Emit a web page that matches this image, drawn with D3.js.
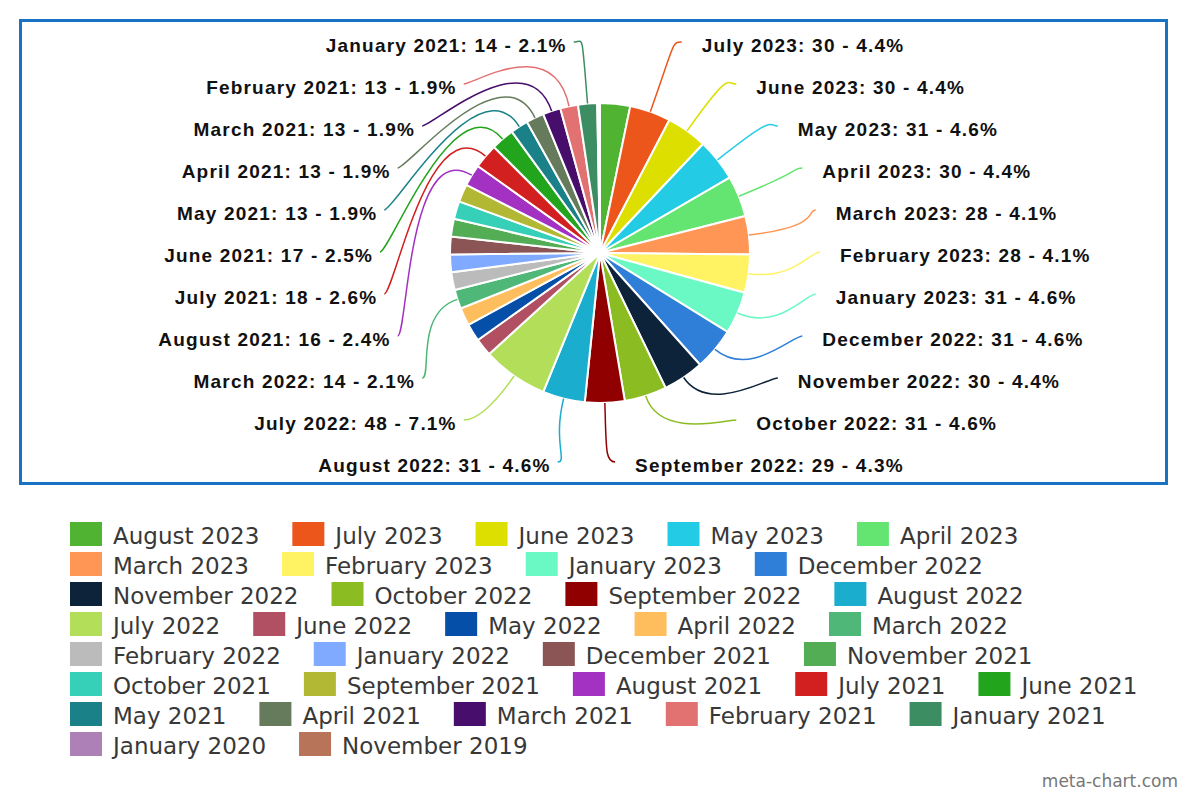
<!DOCTYPE html>
<html>
<head>
<meta charset="utf-8">
<script src="https://cdn.jsdelivr.net/npm/d3@7"></script>
<style>
  body { margin: 0; background: #fff; }
  svg { display: block; }
</style>
</head>
<body>
<svg id="chart" width="1200" height="800"></svg>
<script>
// slices, clockwise from 12 o'clock
const categories = [
  "August 2023", "July 2023", "June 2023", "May 2023", "April 2023", "March 2023",
  "February 2023", "January 2023", "December 2022", "November 2022", "October 2022",
  "September 2022", "August 2022", "July 2022", "June 2022", "May 2022", "April 2022",
  "March 2022", "February 2022", "January 2022", "December 2021", "November 2021",
  "October 2021", "September 2021", "August 2021", "July 2021", "June 2021", "May 2021",
  "April 2021", "March 2021", "February 2021", "January 2021", "January 2020", "November 2019"
];
const values = [
  22, 30, 30, 31, 30, 28,
  28, 31, 31, 30, 31,
  29, 31, 48, 13, 13, 13,
  14, 13, 13, 13, 13,
  13, 13, 16, 18, 17, 13,
  13, 13, 13, 14, 1, 1
];
const colors = [
  "#50b432", "#ed561b", "#dddf00", "#24cbe5", "#64e572", "#ff9655",
  "#fff263", "#6af9c4", "#2f7ed8", "#0d233a", "#8bbc21",
  "#910000", "#1aadce", "#b2de5a", "#b05062", "#054fa8", "#ffbe5e",
  "#4fb878", "#bbbbbb", "#7faaff", "#8b5555", "#52ad55",
  "#36cfb7", "#b3b834", "#a331c2", "#d21f1f", "#23a41d", "#1a8189",
  "#667b5b", "#470e6c", "#e27272", "#3c8d62", "#ae80b8", "#b87458"
];
// slices that get an outer label
const labelled = [
  "July 2023", "June 2023", "May 2023", "April 2023", "March 2023", "February 2023",
  "January 2023", "December 2022", "November 2022", "October 2022", "September 2022",
  "August 2022", "July 2022", "March 2022", "August 2021", "July 2021", "June 2021",
  "May 2021", "April 2021", "March 2021", "February 2021", "January 2021"
];

const width = 1200;
const height = 800;
const cx = 600, cy = 253, radius = 150;

const svg = d3.select("#chart");
const total = d3.sum(values);
const data = categories.map((name, i) => ({ name, value: values[i], color: colors[i] }));

// frame
svg.append("rect")
  .attr("x", 20.5).attr("y", 20.5)
  .attr("width", 1146).attr("height", 463)
  .attr("fill", "none")
  .attr("stroke", "#1a72c4")
  .attr("stroke-width", 3);

const pie = d3.pie().sort(null).value(d => d.value);
const arcs = pie(data);
const arc = d3.arc().innerRadius(0).outerRadius(radius);

const pieG = svg.append("g").attr("transform", `translate(${cx},${cy})`);
pieG.selectAll("path")
  .data(arcs)
  .join("path")
  .attr("d", arc)
  .attr("fill", d => d.data.color)
  .attr("stroke", "#fff")
  .attr("stroke-width", 2);

// --- outer labels: evenly spread rows on each side ---
const shown = arcs
  .filter(d => labelled.includes(d.data.name))
  .map(d => ({ ...d, mid: (d.startAngle + d.endAngle) / 2 }));
const rightSide = shown.filter(d => d.mid < Math.PI).sort((a, b) => a.mid - b.mid);
const leftSide = shown.filter(d => d.mid >= Math.PI).sort((a, b) => b.mid - a.mid);

const rowGap = 42;
const rowTop = cy - 211;
const lineLength = 220;          // pie radius + label distance
const ringB = 214, ringCy = cy - 1;

function placeSide(list, side) {
  list.forEach((d, i) => {
    const ey = rowTop + i * rowGap;
    // natural spot of the label, straight out from the slice
    const natural = Math.abs(lineLength * Math.sin(d.mid)) + 8;
    const t = (ey - ringCy) / ringB;
    const pushed = lineLength * Math.sqrt(Math.max(0, 1 - t * t));
    let off;
    if (i === 0) off = natural;
    else if (i === list.length - 1) off = Math.min(natural, pushed);
    else off = pushed;
    d.side = side;
    d.ex = cx + side * off;
    d.ey = ey;
    d.ox = cx + radius * Math.sin(d.mid);
    d.oy = cy - radius * Math.cos(d.mid);
  });
}
placeSide(rightSide, 1);
placeSide(leftSide, -1);

const labels = rightSide.concat(leftSide);

function connector(d) {
  const k1 = d.oy < cy ? 75 : 45;
  const k2 = 10;
  const rx = Math.sin(d.mid), ry = -Math.cos(d.mid);
  const p = d3.path();
  p.moveTo(d.ox, d.oy);
  p.bezierCurveTo(d.ox + rx * k1, d.oy + ry * k1, d.ex - d.side * k2, d.ey, d.ex, d.ey);
  return p.toString();
}

svg.append("g")
  .selectAll("path")
  .data(labels)
  .join("path")
  .attr("d", connector)
  .attr("fill", "none")
  .attr("stroke", d => d.data.color)
  .attr("stroke-width", 1.5);

svg.append("g")
  .selectAll("text")
  .data(labels)
  .join("text")
  .attr("x", d => d.side > 0 ? d.ex + 20 : d.ex - 7)
  .attr("y", d => d.ey + 10)
  .attr("text-anchor", d => d.side > 0 ? "start" : "end")
  .style("font-family", "'Liberation Sans', Arial, sans-serif")
  .style("font-weight", "bold")
  .style("font-size", "19px")
  .style("letter-spacing", "1.2px")
  .attr("fill", "#111")
  .text(d => `${d.data.name}: ${d.data.value} - ${(d.data.value / total * 100).toFixed(1)}%`);

// --- legend, flowing left to right ---
const legend = svg.append("g");
const legendLeft = 70, legendRight = 1150;
let lx = legendLeft, ly = 522;
data.forEach(d => {
  const g = legend.append("g");
  const txt = g.append("text")
    .style("font-family", "'DejaVu Sans', sans-serif")
    .style("font-size", "23px")
    .attr("fill", "#383838")
    .text(d.name);
  const tw = txt.node().getComputedTextLength();
  const itemW = 43 + tw;
  if (lx + itemW > legendRight && lx > legendLeft) {
    lx = legendLeft;
    ly += 30;
  }
  g.append("rect")
    .attr("x", lx).attr("y", ly)
    .attr("width", 32).attr("height", 24)
    .attr("fill", d.color);
  txt.attr("x", lx + 43).attr("y", ly + 21.5);
  lx += itemW + 33;
});

svg.append("text")
  .attr("x", 1178)
  .attr("y", 787)
  .attr("text-anchor", "end")
  .style("font-family", "'DejaVu Sans', sans-serif")
  .style("font-size", "17px")
  .attr("fill", "#777")
  .text("meta-chart.com");
</script>
</body>
</html>
